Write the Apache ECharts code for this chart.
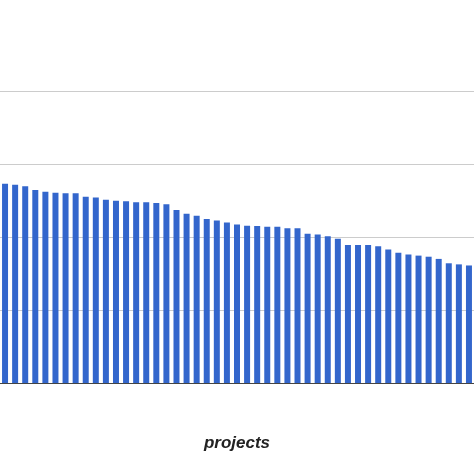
<!DOCTYPE html>
<html>
<head>
<meta charset="utf-8">
<script src="https://cdn.jsdelivr.net/npm/echarts@6/dist/echarts.min.js"></script>
<style>
  html, body { margin: 0; padding: 0; background: #fff; }
  #chart { width: 474px; height: 474px; }
</style>
</head>
<body>
<div id="chart"></div>
<script>
// values (one per project, sorted descending)
const projectValues = [
  54.6, 54.3, 53.9, 52.9, 52.4, 52.1, 52.0, 52.0, 51.0, 50.8,
  50.2, 49.9, 49.8, 49.5, 49.5, 49.3, 49.0, 47.4, 46.4, 45.8,
  44.9, 44.5, 44.0, 43.4, 43.1, 43.0, 42.8, 42.8, 42.4, 42.4,
  40.9, 40.7, 40.2, 39.5, 37.8, 37.8, 37.8, 37.5, 36.6, 35.7,
  35.2, 34.9, 34.6, 34.0, 32.8, 32.5, 32.2
];
const projects = projectValues.map((v, i) => 'P' + (i + 1));
const axisMin = 0;
const axisMax = 80;
const axisStep = 20;

const option = {
  animation: false,
  grid: { left: 0, right: -1, top: 91, bottom: 91 },
  xAxis: {
    type: 'category',
    data: projects,
    name: 'projects',
    nameLocation: 'middle',
    nameGap: 52,
    nameTextStyle: {
      fontFamily: 'Liberation Sans',
      fontSize: 17,
      fontWeight: 'bold',
      fontStyle: 'italic',
      color: '#222'
    },
    axisLine: { show: true, lineStyle: { color: '#444', width: 1 } },
    axisTick: { show: false },
    axisLabel: { show: false }
  },
  yAxis: {
    type: 'value',
    min: axisMin,
    max: axisMax,
    interval: axisStep,
    axisLine: { show: false },
    axisTick: { show: false },
    axisLabel: { show: false },
    splitLine: { lineStyle: { color: '#cccccc', width: 1 } }
  },
  series: [{
    type: 'bar',
    data: projectValues,
    barWidth: 6,
    itemStyle: { color: '#3366cc' }
  }]
};

const myChart = echarts.init(document.getElementById('chart'));
myChart.setOption(option);
</script>
</body>
</html>
